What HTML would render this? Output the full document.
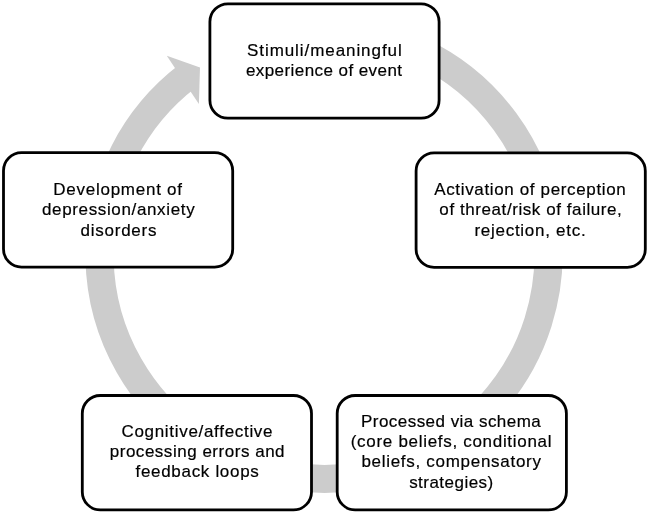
<!DOCTYPE html>
<html><head><meta charset="utf-8"><style>
html,body{margin:0;padding:0;background:#fff;}
svg{display:block;}
text{will-change:transform;}
text{font-family:"Liberation Sans",sans-serif;font-size:17px;fill:#000;stroke:#000;stroke-width:0.2px;}
</style></head><body>
<svg width="649" height="514" viewBox="0 0 649 514">
<path d="M324.00,29.90 A224.5,224.5 0 1 1 187.33,76.29" fill="none" stroke="#cccccc" stroke-width="28.2"/>
<polygon points="166.8,55.8 200,67.5 198.9,104" fill="#cccccc"/>
<rect x="209.9" y="3.8" width="229.2" height="114.4" rx="18" ry="18" fill="#fff" stroke="#000" stroke-width="2.8"/>
<rect x="3.5" y="152.7" width="229.2" height="114.4" rx="18" ry="18" fill="#fff" stroke="#000" stroke-width="2.8"/>
<rect x="416.1" y="152.9" width="229.2" height="114.4" rx="18" ry="18" fill="#fff" stroke="#000" stroke-width="2.8"/>
<rect x="82.3" y="395.5" width="229.2" height="114.4" rx="18" ry="18" fill="#fff" stroke="#000" stroke-width="2.8"/>
<rect x="337.2" y="395.5" width="229.2" height="114.4" rx="18" ry="18" fill="#fff" stroke="#000" stroke-width="2.8"/>
<text x="324.36" y="56" text-anchor="middle" textLength="154.67" lengthAdjust="spacing">Stimuli/meaningful</text>
<text x="323.98" y="76" text-anchor="middle" textLength="156.13" lengthAdjust="spacing">experience of event</text>
<text x="117.65" y="195" text-anchor="middle" textLength="128.70" lengthAdjust="spacing">Development of</text>
<text x="118.28" y="215.4" text-anchor="middle" textLength="152.69" lengthAdjust="spacing">depression/anxiety</text>
<text x="118.49" y="236" text-anchor="middle" textLength="75.99" lengthAdjust="spacing">disorders</text>
<text x="530.03" y="195" text-anchor="middle" textLength="191.60" lengthAdjust="spacing">Activation of perception</text>
<text x="530.60" y="215.4" text-anchor="middle" textLength="182.51" lengthAdjust="spacing">of threat/risk of failure,</text>
<text x="530.05" y="235.6" text-anchor="middle" textLength="111.22" lengthAdjust="spacing">rejection, etc.</text>
<text x="196.97" y="437" text-anchor="middle" textLength="151.07" lengthAdjust="spacing">Cognitive/affective</text>
<text x="197.15" y="457" text-anchor="middle" textLength="174.85" lengthAdjust="spacing">processing errors and</text>
<text x="197.14" y="477" text-anchor="middle" textLength="123.35" lengthAdjust="spacing">feedback loops</text>
<text x="450.90" y="427" text-anchor="middle" textLength="179.81" lengthAdjust="spacing">Processed via schema</text>
<text x="451.13" y="447" text-anchor="middle" textLength="200.74" lengthAdjust="spacing">(core beliefs, conditional</text>
<text x="451.16" y="467" text-anchor="middle" textLength="179.57" lengthAdjust="spacing">beliefs, compensatory</text>
<text x="451.17" y="487.6" text-anchor="middle" textLength="84.04" lengthAdjust="spacing">strategies)</text>
</svg>
</body></html>
